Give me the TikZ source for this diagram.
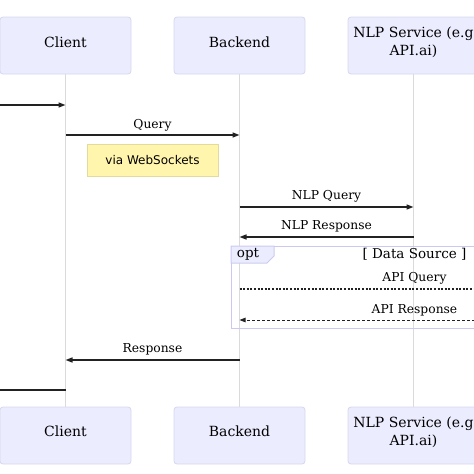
\documentclass[tikz,border=0pt]{standalone}
\usepackage{fontspec}
\setmainfont{DejaVu Serif}
\newfontfamily\notefont{DejaVu Sans}
\usetikzlibrary{arrows.meta}
\definecolor{actfill}{HTML}{ECECFF}
\definecolor{actdraw}{HTML}{D6D6EE}
\definecolor{lifeclr}{HTML}{DADADA}
\definecolor{msgclr}{HTML}{222222}
\definecolor{notefill}{HTML}{FFF5AD}
\definecolor{notedraw}{HTML}{E2DC9C}
\definecolor{optdraw}{HTML}{CACAF0}
\tikzset{
  actor/.style={draw=actdraw, fill=actfill, line width=0.8pt, rounded corners=3pt,
    minimum width=131pt, minimum height=57pt, inner sep=0pt},
  actlbl/.style={inner sep=0pt, align=center, font=\fontsize{14}{18}\selectfont, text=black},
  life/.style={draw=lifeclr, line width=0.9pt},
  msg/.style={draw=msgclr, line width=1.4pt, -{Triangle[length=7pt,width=5pt]}},
  msgnohead/.style={draw=msgclr, line width=1.4pt},
  dotmsg/.style={draw=msgclr, line width=1.6pt, dash pattern=on 2pt off 1.6pt},
  dashmsg/.style={draw=msgclr, line width=0.9pt, dash pattern=on 3pt off 2pt, -{Triangle[length=6pt,width=4.5pt]}},
  msglbl/.style={font=\fontsize{12.3}{14}\selectfont, text=black, inner sep=0pt},
  notebox/.style={draw=notedraw, fill=notefill, line width=0.8pt, minimum width=131pt,
    minimum height=32pt, inner sep=0pt, font=\notefont\fontsize{12}{14}\selectfont},
  optbox/.style={draw=optdraw, line width=1pt},
  optlbl/.style={font=\fontsize{13.5}{16}\selectfont, inner sep=0pt, text=black}
}
\begin{document}
\begin{tikzpicture}[x=1pt,y=-1pt]
\useasboundingbox (0,0) rectangle (474,474);
\clip (0,0) rectangle (474,474);
% actors
\node[actor] (ct) at (65.5,45.5) {};
\node[actor] (bt) at (239.5,45.5) {};
\node[actor] (nt) at (413.5,45.5) {};
\node[actor] (cb) at (65.5,435.5) {};
\node[actor] (bb) at (239.5,435.5) {};
\node[actor] (nb) at (413.5,435.5) {};
\node[actlbl] (ctl) at (65.5,42) {Client};
\node[actlbl] (btl) at (239.5,42) {Backend};
\node[actlbl] (ntl) at (413.5,42) {NLP Service (e.g\\API.ai)};
\node[actlbl] (cbl) at (65.5,431.5) {Client};
\node[actlbl] (bbl) at (239.5,431.5) {Backend};
\node[actlbl] (nbl) at (413.5,432) {NLP Service (e.g\\API.ai)};
% lifelines
\draw[life] (ct.south) -- (cb.north);
\draw[life] (bt.south) -- (bb.north);
\draw[life] (nt.south) -- (nb.north);
% message end points
\coordinate (l1) at (-20,105);
\coordinate (c1) at (65.5,105);
\coordinate (c2) at (65.5,135);
\coordinate (b2) at (239.5,135);
\coordinate (b3) at (239.5,207);
\coordinate (n3) at (413.5,207);
\coordinate (n4) at (413.5,237);
\coordinate (b4) at (239.5,237);
\coordinate (b5) at (239.5,289);
\coordinate (r5) at (589.5,289);
\coordinate (r6) at (589.5,320);
\coordinate (b6) at (239.5,320);
\coordinate (b7) at (239.5,360);
\coordinate (c7) at (65.5,360);
\coordinate (c8) at (65.5,390);
\coordinate (l8) at (-20,390);
% messages
\draw[msg] (l1) -- (c1);
\draw[msg] (c2) -- (b2) node[msglbl, midway, yshift=10pt] {Query};
\node[notebox] (note) at (152.5,160) {via WebSockets};
\draw[msg] (b3) -- (n3) node[msglbl, midway, yshift=10.5pt] {NLP Query};
\draw[msg] (n4) -- (b4) node[msglbl, midway, yshift=10.5pt] {NLP Response};
% opt frame
\draw[optbox] (231,246) rectangle (500,328.5);
\draw[optbox, fill=actfill] (231,246) -- (274,246) -- (274,256) -- (267,263) -- (231,263) -- cycle;
\node[optlbl] (optl) at (248,254.5) {opt};
\node[optlbl] (cond) at (414.5,254.5) {[ Data Source ]};
\draw[dotmsg] (b5) -- (r5) node[msglbl, midway, yshift=10.5pt] {API Query};
\draw[dashmsg] (r6) -- (b6) node[msglbl, midway, yshift=9.5pt] {API Response};
\draw[msg] (b7) -- (c7) node[msglbl, midway, yshift=11pt] {Response};
\draw[msgnohead] (c8) -- (l8);
\end{tikzpicture}
\end{document}
